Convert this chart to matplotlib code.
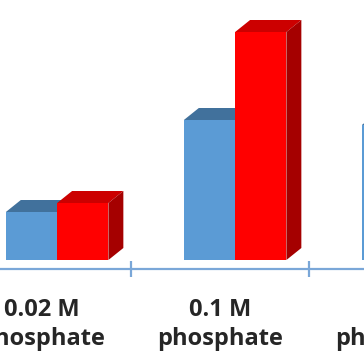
import matplotlib
matplotlib.use("Agg")
import matplotlib.pyplot as plt
from matplotlib.ticker import FixedLocator, NullLocator

categories = ["0.02 M\nphosphate", "0.1 M\nphosphate", "0.5 M\nphosphate"]
blue_values = [48, 140, 135]
red_values = [57, 228, 240]

# style
blue_front = "#5b9bd5"
blue_top = "#41719c"
red_front = "#ff0000"
red_top = "#cc0000"
red_side = "#a50000"
axis_color = "#7aa7d8"

bar_w = 0.288
blue_off = -0.203
dx = 0.084   # depth offset in x (data units)
dy = 12      # depth offset in y (data units)

fig = plt.figure(figsize=(3.64, 3.64), dpi=100)
ax = fig.add_axes([0, 0, 1, 1])
ax.set_xlim(-0.236, 1.809)
ax.set_ylim(-104, 260)

def bar3d(x0, v, front, top, side=None):
    x1 = x0 + bar_w
    ax.fill([x0, x1, x1 + dx, x0 + dx], [v, v, v + dy, v + dy], color=top, lw=0, zorder=2)
    if side is not None:
        ax.fill([x1, x1 + dx, x1 + dx, x1], [0, dy, v + dy, v], color=side, lw=0, zorder=2)
    ax.fill([x0, x1, x1, x0], [0, 0, v, v], color=front, lw=0, zorder=3)

for i, (b, r) in enumerate(zip(blue_values, red_values)):
    xb = i + blue_off
    bar3d(xb, b, blue_front, blue_top)
    bar3d(xb + bar_w, r, red_front, red_top, red_side)

for s in ["top", "left", "right"]:
    ax.spines[s].set_visible(False)
ax.spines["bottom"].set_position(("data", -9))
ax.spines["bottom"].set_color(axis_color)
ax.spines["bottom"].set_linewidth(1.6)
ax.yaxis.set_visible(False)

ax.xaxis.set_major_locator(NullLocator())
ax.xaxis.set_minor_locator(FixedLocator([i - 0.5 for i in range(len(categories) + 1)]))
ax.tick_params(axis="x", which="minor", direction="inout", length=11, width=1.6,
               color=axis_color, labelbottom=False)

# category labels (drawn as text so the partially visible third one is kept)
for i, lab in enumerate(categories):
    ax.text(i, -85, lab, ha="center", va="baseline", fontsize=17, fontweight="bold",
            color="#262626", family=["Open Sans", "DejaVu Sans"], linespacing=1.3,
            clip_on=False)

fig.savefig("out.png", dpi=100)
